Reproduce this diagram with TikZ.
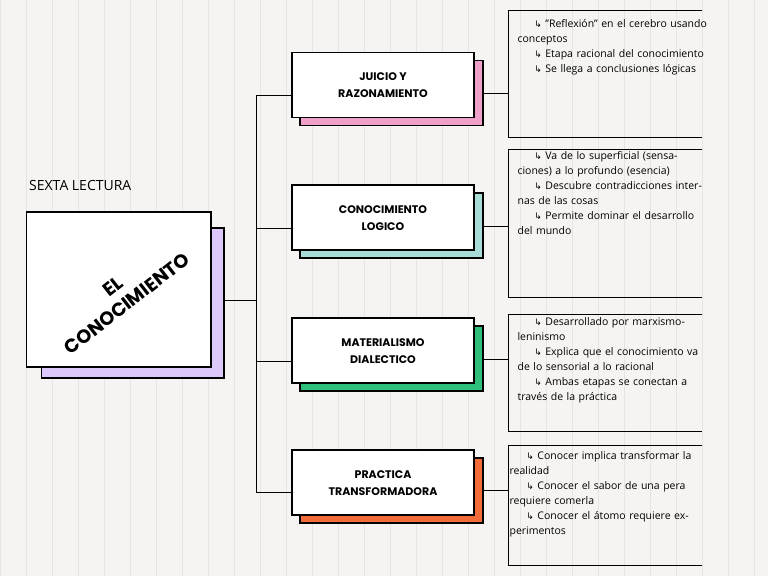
\documentclass[tikz,border=0pt]{standalone}
\usepackage{fontspec}
\setmainfont{Open Sans}
\newfontfamily\hdfont{Poppins}
\newfontfamily\djfont{DejaVu Sans}
\definecolor{bg}{HTML}{F5F4F2}
\definecolor{grid}{HTML}{E6E5E3}
\definecolor{pk}{HTML}{EFA0C8}
\definecolor{tl}{HTML}{A8DCD6}
\definecolor{gn}{HTML}{2EBF7A}
\definecolor{og}{HTML}{F26B38}
\definecolor{pu}{HTML}{DCC8FA}
\newcommand{\myar}{\hspace*{1.6em}{\djfont\small ↳} }
\begin{document}
\begin{tikzpicture}[x=1pt,y=-1pt,
  line width=1.3pt,
  head/.style={font=\hdfont\bfseries\fontsize{11}{17}\selectfont,align=center},
  body/.style={font=\fontsize{10.5}{15}\selectfont,align=left,text width=190pt,anchor=north west,inner sep=0pt},
  conn/.style={line width=1pt}]
\fill[bg] (0,0) rectangle (768,576);
\draw[grid,line width=0.5pt] (0,0) grid[step=26] (768,576);
\useasboundingbox (0,0) rectangle (768,576);
\node[anchor=west,font=\fontsize{14}{16}\selectfont] (title) at (25,185) {SEXTA LECTURA};
% main
\draw[fill=pu] (41,228) rectangle (224,378);
\draw[fill=white] (26,212) rectangle (211,367);
\node[rotate=38,font=\hdfont\bfseries\fontsize{19}{22}\selectfont,align=center] (main) at (120,295) {EL\\CONOCIMIENTO};
\coordinate (mr) at (224,300);
\coordinate (tr) at (256,300);
\draw[conn] (mr) -- (tr);
\draw[conn] (256,95) -- (256,492);
\foreach \y/\c/\t [count=\i] in {52/pk/{JUICIO Y\\RAZONAMIENTO},185/tl/{CONOCIMIENTO\\LOGICO},318/gn/{MATERIALISMO\\DIALECTICO},450/og/{PRACTICA\\TRANSFORMADORA}}{
  \draw[fill=\c] (300,\y+8) rectangle (483,\y+73);
  \draw[fill=white] (292,\y) rectangle (474,\y+65);
  \node[head] (b\i) at (383,\y+33) {\t};
  \draw[conn] (256,\y+43) -- (292,\y+43);
  \coordinate (r\i) at (483,\y+41);
  \coordinate (k\i) at (509,\y+41);
  \draw[conn] (r\i) -- (k\i);
}
\foreach \a/\b [count=\i] in {10/137,149/297,314/432,446/566}{
  \draw[conn] (702,\a) -- (509,\a) -- (509,\b) -- (702,\b);
}
\node[body] (t1) at (517,19) {\myar"Reflexión" en el cerebro usando conceptos\\\myar Etapa racional del conocimiento\\\myar Se llega a conclusiones lógicas};
\node[body] (t2) at (517,151) {\myar Va de lo superficial (sensaciones) a lo profundo (esencia)\\\myar Descubre contradicciones internas de las cosas\\\myar Permite dominar el desarrollo del mundo};
\node[body] (t3) at (517,317) {\myar Desarrollado por marxismo-leninismo\\\myar Explica que el conocimiento va de lo sensorial a lo racional\\\myar Ambas etapas se conectan a través de la práctica};
\node[body] (t4) at (509,451) {\myar Conocer implica transformar la realidad\\\myar Conocer el sabor de una pera requiere comerla\\\myar Conocer el átomo requiere experimentos};
\end{tikzpicture}
\end{document}
